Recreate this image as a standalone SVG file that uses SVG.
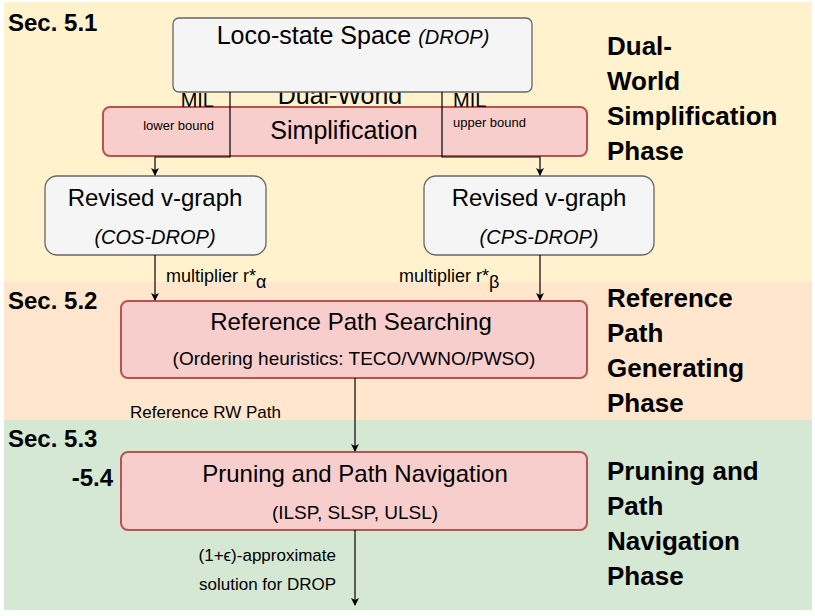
<svg xmlns="http://www.w3.org/2000/svg" width="815" height="616" viewBox="0 0 815 616">
<defs>
<style>
text{font-family:"Liberation Sans",Arial,sans-serif;fill:#000}
.g{fill:#f5f5f5;stroke:#666;stroke-width:1.3}
.r{fill:#f8cecc;stroke:#b85450;stroke-width:2}
.c{fill:none;stroke:#000;stroke-width:1.2}
.sec{font-weight:bold;font-size:24px}
.ph{font-weight:bold;font-size:26px}
</style>
<marker id="a" markerWidth="8" markerHeight="8" refX="7" refY="4" orient="auto" markerUnits="userSpaceOnUse"><path d="M0,0 L8,4 L0,8 L2,4Z" fill="#000"/></marker>
</defs>
<rect x="4" y="2" width="808" height="280" fill="#fff2cc"/>
<rect x="4" y="282" width="808" height="138" fill="#ffe6cc"/>
<rect x="4" y="420" width="808" height="190" fill="#d5e8d4"/>
<g id="labels">
<text class="sec" x="8" y="31">Sec. 5.1</text>
<text class="sec" x="8" y="309">Sec. 5.2</text>
<text class="sec" x="8" y="447">Sec. 5.3</text>
<text class="sec" x="113" y="486" text-anchor="end">-5.4</text>
<text class="ph" x="607" y="55">Dual-</text>
<text class="ph" x="607" y="90">World</text>
<text class="ph" x="607" y="125">Simplification</text>
<text class="ph" x="607" y="160">Phase</text>
<text class="ph" x="607" y="307">Reference</text>
<text class="ph" x="607" y="342">Path</text>
<text class="ph" x="607" y="377">Generating</text>
<text class="ph" x="607" y="412">Phase</text>
<text class="ph" x="607" y="480">Pruning and</text>
<text class="ph" x="607" y="515">Path</text>
<text class="ph" x="607" y="550">Navigation</text>
<text class="ph" x="607" y="585">Phase</text>
</g>
<g id="dual">
<rect class="r" x="103" y="107" width="484" height="49" rx="7"/>
<text x="340" y="104" font-size="25" text-anchor="middle">Dual-World</text>
<text x="344" y="139" font-size="25" text-anchor="middle">Simplification</text>
<text x="214" y="107" font-size="20" text-anchor="end">MIL</text>
<text x="214" y="130" font-size="13" text-anchor="end">lower bound</text>
<text x="453" y="107" font-size="20">MIL</text>
<text x="453" y="127" font-size="13">upper bound</text>
</g>
<g id="loco">
<rect class="g" x="173" y="18" width="359" height="74" rx="6" transform="translate(0,0)"/>
<rect class="g" x="173" y="18" width="359" height="74" rx="6" style="display:none"/>
<text x="353" y="44" font-size="25" text-anchor="middle">Loco-state Space <tspan font-style="italic" font-size="20">(DROP)</tspan></text>
</g>
<g id="left">
<rect class="g" x="45" y="176" width="221" height="79" rx="12"/>
<text x="155" y="206" font-size="24" text-anchor="middle">Revised v-graph</text>
<text x="155" y="244" font-size="20" font-style="italic" text-anchor="middle">(COS-DROP)</text>
</g>
<g id="right">
<rect class="g" x="424" y="176" width="230" height="79" rx="12"/>
<text x="539" y="206" font-size="24" text-anchor="middle">Revised v-graph</text>
<text x="539" y="244" font-size="20" font-style="italic" text-anchor="middle">(CPS-DROP)</text>
</g>
<g id="ref">
<rect class="r" x="121" y="301" width="466" height="77" rx="7"/>
<text x="351" y="330" font-size="24" text-anchor="middle">Reference Path Searching</text>
<text x="354" y="365" font-size="19" text-anchor="middle">(Ordering heuristics: TECO/VWNO/PWSO)</text>
</g>
<g id="prune">
<rect class="r" x="121" y="452" width="466" height="78" rx="7"/>
<text x="355" y="482" font-size="24" text-anchor="middle">Pruning and Path Navigation</text>
<text x="355" y="519" font-size="19" text-anchor="middle">(ILSP, SLSP, ULSL)</text>
</g>
<g id="connectors">
<path class="c" d="M230,92 V157 H155 V175" marker-end="url(#a)"/>
<path class="c" d="M442,92 V157 H540 V175" marker-end="url(#a)"/>
<path class="c" d="M155,255 V300" marker-end="url(#a)"/>
<path class="c" d="M540,255 V300" marker-end="url(#a)"/>
<path class="c" d="M355,378 V451" marker-end="url(#a)"/>
<path class="c" d="M355,530 V605" marker-end="url(#a)"/>
<text x="166" y="282" font-size="18">multiplier r*<tspan font-size="18" dy="6">α</tspan></text>
<text x="399" y="282" font-size="18">multiplier r*<tspan font-size="18" dy="6">β</tspan></text>
<text x="130" y="418" font-size="17">Reference RW Path</text>
<text x="336" y="561" font-size="17" text-anchor="end">(1+ϵ)-approximate</text>
<text x="336" y="590" font-size="17" text-anchor="end">solution for DROP</text>
</g>
</svg>
